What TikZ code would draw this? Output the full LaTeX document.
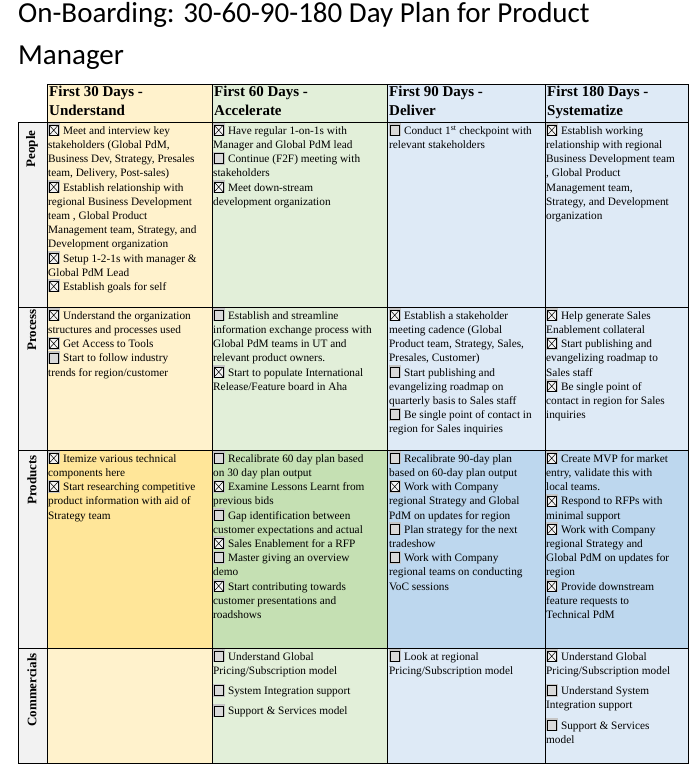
\documentclass[tikz,border=0pt]{standalone}
\usepackage{fontspec}
\setmainfont{Liberation Serif}
\newfontfamily\titlefont{Carlito}
\definecolor{cA}{HTML}{FFF2CC}\definecolor{cAd}{HTML}{FFE699}
\definecolor{cB}{HTML}{E2EFD9}\definecolor{cBd}{HTML}{C5E0B3}
\definecolor{cC}{HTML}{DEEAF6}\definecolor{cCd}{HTML}{BDD7EE}
\definecolor{cR}{HTML}{F2F2F2}
\newcommand\cbx{\tikz[baseline=-1pt,x=1pt,y=1pt]{\fill[gray!45](-1,-3) rectangle (11,10);\draw[fill=gray!10,line width=0.5pt](0,-2) rectangle (9,8);\draw[line width=0.5pt](0,-2)--(9,8) (0,8)--(9,-2);}\ }
\newcommand\cbo{\tikz[baseline=-1pt,x=1pt,y=1pt]{\fill[gray!45](-1,-3) rectangle (11,10);\draw[fill=gray!30,line width=0.5pt](0,-2) rectangle (9,8);}\ }
\begin{document}
\begin{tikzpicture}[x=1pt,y=-1pt,
  cell/.style={anchor=north west,inner sep=0pt,align=left,font=\fontsize{11.3}{14.2}\selectfont},
  head/.style={anchor=north west,inner sep=0pt,align=left,font=\fontsize{15}{19}\selectfont\bfseries},
  rowlab/.style={rotate=90,inner sep=0pt,font=\fontsize{13}{15}\selectfont\bfseries}]
\useasboundingbox (0,0) rectangle (699,771);
\fill[white] (0,0) rectangle (699,771);
\node[anchor=north west,inner sep=0pt,align=left,font=\fontsize{29}{42}\selectfont\titlefont] (title) at (18,2) {On-Boarding: 30-60-90-180 Day Plan for Product\\Manager};
% fills
\fill[cA] (47,84) rectangle (212,450); \fill[cAd] (47,450) rectangle (212,648); \fill[cA] (47,648) rectangle (212,763);
\fill[cB] (212,84) rectangle (387,450); \fill[cBd] (212,450) rectangle (387,648); \fill[cB] (212,648) rectangle (387,763);
\fill[cC] (387,84) rectangle (545,450); \fill[cCd] (387,450) rectangle (545,648); \fill[cC] (387,648) rectangle (545,763);
\fill[cC] (545,84) rectangle (688,450); \fill[cCd] (545,450) rectangle (688,648); \fill[cC] (545,648) rectangle (688,763);
\fill[cR] (18,122) rectangle (47,763);
% grid
\draw[line width=0.8pt] (47,84) rectangle (688,763);
\draw[line width=0.8pt] (18,122) rectangle (47,763);
\foreach \x in {212,387,545} \draw[line width=0.8pt] (\x,84)--(\x,763);
\foreach \y in {122,307,450,648} \draw[line width=0.8pt] (18,\y)--(688,\y);
% headers
\node[head] (h1) at (49,86) {First 30 Days -\\Understand};
\node[head] (h2) at (214,86) {First 60 Days -\\Accelerate};
\node[head] (h3) at (389,86) {First 90 Days -\\Deliver};
\node[head] (h4) at (547,86) {First 180 Days -\\Systematize};
\node[rowlab] (r1) at (32,149) {People};
\node[rowlab] (r2) at (32,330) {Process};
\node[rowlab] (r3) at (32,480) {Products};
\node[rowlab] (r4) at (32,690) {Commercials};
% People
\node[cell] (p1) at (48,123) {\cbx Meet and interview key\\stakeholders (Global PdM,\\Business Dev, Strategy, Presales\\team, Delivery, Post-sales)\\\cbx Establish relationship with\\regional Business Development\\team , Global Product\\Management team, Strategy, and\\Development organization\\\cbx Setup 1-2-1s with manager \&\\Global PdM Lead\\\cbx Establish goals for self};
\node[cell] (p2) at (213,123) {\cbx Have regular 1-on-1s with\\Manager and Global PdM lead\\\cbo Continue (F2F) meeting with\\stakeholders\\\cbx Meet down-stream\\development organization};
\node[cell] (p3) at (389,123) {\cbo Conduct 1\textsuperscript{st} checkpoint with\\relevant stakeholders};
\node[cell] (p4) at (546,123) {\cbx Establish working\\relationship with regional\\Business Development team\\, Global Product\\Management team,\\Strategy, and Development\\organization};
% Process
\node[cell] (q1) at (48,308) {\cbx Understand the organization\\structures and processes used\\\cbx Get Access to Tools\\\cbo Start to follow industry\\trends for region/customer};
\node[cell] (q2) at (213,308) {\cbo Establish and streamline\\information exchange process with\\Global PdM teams in UT and\\relevant product owners.\\\cbx Start to populate International\\Release/Feature board in Aha};
\node[cell] (q3) at (389,308) {\cbx Establish a stakeholder\\meeting cadence (Global\\Product team, Strategy, Sales,\\Presales, Customer)\\\cbo Start publishing and\\evangelizing roadmap on\\quarterly basis to Sales staff\\\cbo Be single point of contact in\\region for Sales inquiries};
\node[cell] (q4) at (546,308) {\cbx Help generate Sales\\Enablement collateral\\\cbx Start publishing and\\evangelizing roadmap to\\Sales staff\\\cbx Be single point of\\contact in region for Sales\\inquiries};
% Products
\node[cell] (s1) at (48,451) {\cbx Itemize various technical\\components here\\\cbx Start researching competitive\\product information with aid of\\Strategy team};
\node[cell] (s2) at (213,451) {\cbo Recalibrate 60 day plan based\\on 30 day plan output\\\cbx Examine Lessons Learnt from\\previous bids\\\cbo Gap identification between\\customer expectations and actual\\\cbx Sales Enablement for a RFP\\\cbo Master giving an overview\\demo\\\cbx Start contributing towards\\customer presentations and\\roadshows};
\node[cell] (s3) at (389,451) {\cbo Recalibrate 90-day plan\\based on 60-day plan output\\\cbx Work with Company\\regional Strategy and Global\\PdM on updates for region\\\cbo Plan strategy for the next\\tradeshow\\\cbo Work with Company\\regional teams on conducting\\VoC sessions};
\node[cell] (s4) at (546,451) {\cbx Create MVP for market\\entry, validate this with\\local teams.\\\cbx Respond to RFPs with\\minimal support\\\cbx Work with Company\\regional Strategy and\\Global PdM on updates for\\region\\\cbx Provide downstream\\feature requests to\\Technical PdM};
% Commercials
\node[cell] (c2) at (213,649) {\cbo Understand Global\\Pricing/Subscription model\\[6pt]\cbo System Integration support\\[6pt]\cbo Support \& Services model};
\node[cell] (c3) at (389,649) {\cbo Look at regional\\Pricing/Subscription model};
\node[cell] (c4) at (546,649) {\cbx Understand Global\\Pricing/Subscription model\\[6pt]\cbo Understand System\\Integration support\\[6pt]\cbo Support \& Services\\model};
\end{tikzpicture}
\end{document}
